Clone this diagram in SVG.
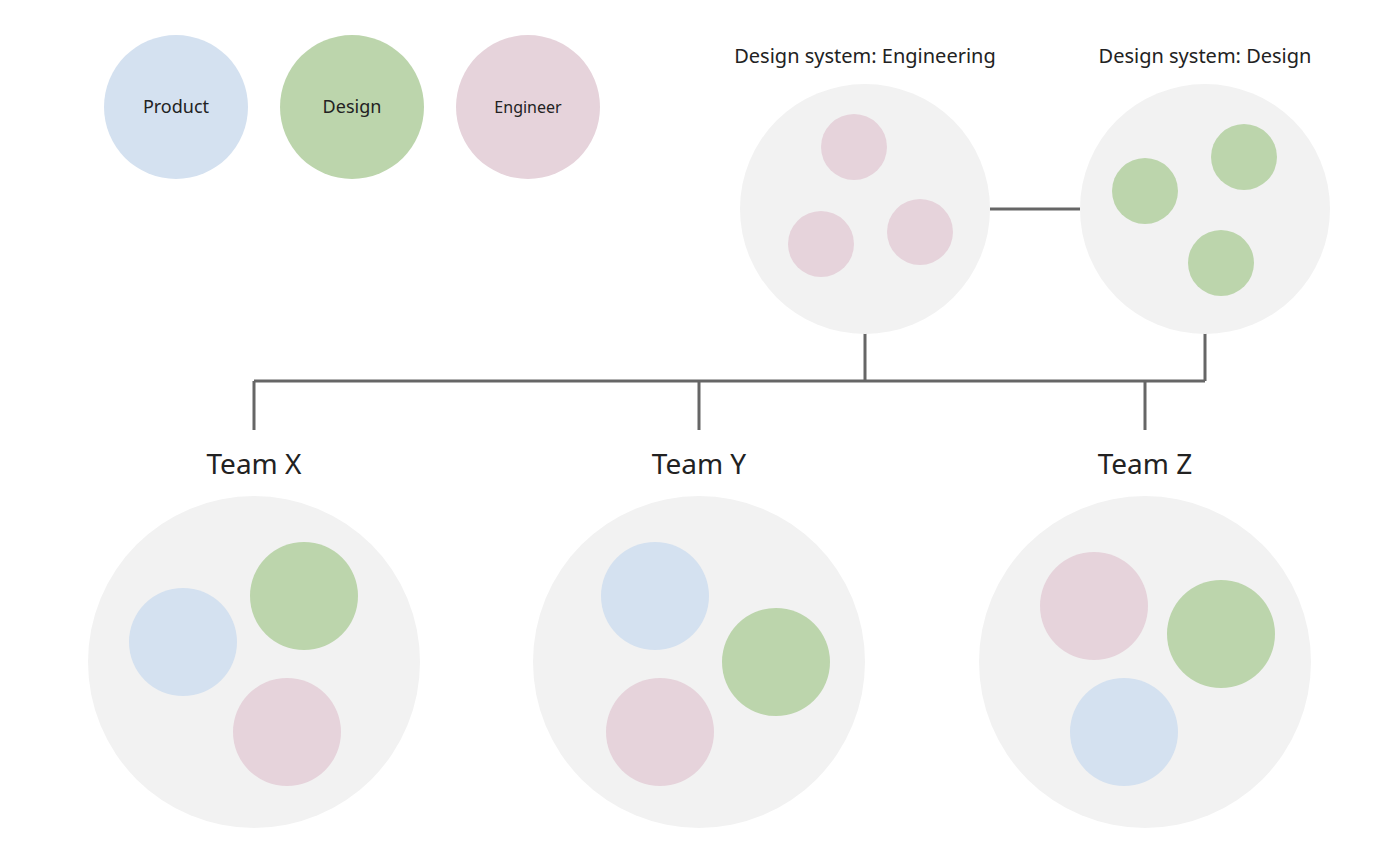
<svg xmlns="http://www.w3.org/2000/svg" width="1400" height="860" viewBox="0 0 1400 860">
<style>
.p{fill:#d4e1f0}.d{fill:#bcd5ac}.e{fill:#e6d3db}.g{fill:#f2f2f2}
.c{stroke:#666;stroke-width:3;fill:none}
text{font-family:"Noto Sans","DejaVu Sans",sans-serif;fill:#222;text-anchor:middle}
.l{font-size:18px}.h{font-size:20px}.t{font-size:28px}
</style>
<rect width="1400" height="860" fill="#fff"/>
<g id="legend-product"><circle class="p" cx="176" cy="107" r="72"/><text class="l" x="176" y="113">Product</text></g>
<g id="legend-design"><circle class="d" cx="352" cy="107" r="72"/><text class="l" x="352" y="113">Design</text></g>
<g id="legend-engineer"><circle class="e" cx="528" cy="107" r="72"/><text x="528" y="113" style="font-size:16px">Engineer</text></g>
<g id="connectors">
<path class="c" d="M990 209H1080M865 333V381M1205 333V381M254 381H1205M254 381V430M699 381V430M1145 381V430"/>
</g>
<g id="ds-eng"><text class="h" x="865" y="63">Design system: Engineering</text>
<circle class="g" cx="865" cy="209" r="125"/>
<circle class="e" cx="854" cy="147" r="33"/><circle class="e" cx="821" cy="244" r="33"/><circle class="e" cx="920" cy="232" r="33"/></g>
<g id="ds-design"><text class="h" x="1205" y="63">Design system: Design</text>
<circle class="g" cx="1205" cy="209" r="125"/>
<circle class="d" cx="1145" cy="191" r="33"/><circle class="d" cx="1244" cy="157" r="33"/><circle class="d" cx="1221" cy="263" r="33"/></g>
<g id="team-x"><text class="t" x="254" y="474">Team X</text>
<circle class="g" cx="254" cy="662" r="166"/>
<circle class="p" cx="183" cy="642" r="54"/><circle class="d" cx="304" cy="596" r="54"/><circle class="e" cx="287" cy="732" r="54"/></g>
<g id="team-y"><text class="t" x="699" y="474">Team Y</text>
<circle class="g" cx="699" cy="662" r="166"/>
<circle class="p" cx="655" cy="596" r="54"/><circle class="d" cx="776" cy="662" r="54"/><circle class="e" cx="660" cy="732" r="54"/></g>
<g id="team-z"><text class="t" x="1145" y="474">Team Z</text>
<circle class="g" cx="1145" cy="662" r="166"/>
<circle class="e" cx="1094" cy="606" r="54"/><circle class="d" cx="1221" cy="634" r="54"/><circle class="p" cx="1124" cy="732" r="54"/></g>
</svg>
